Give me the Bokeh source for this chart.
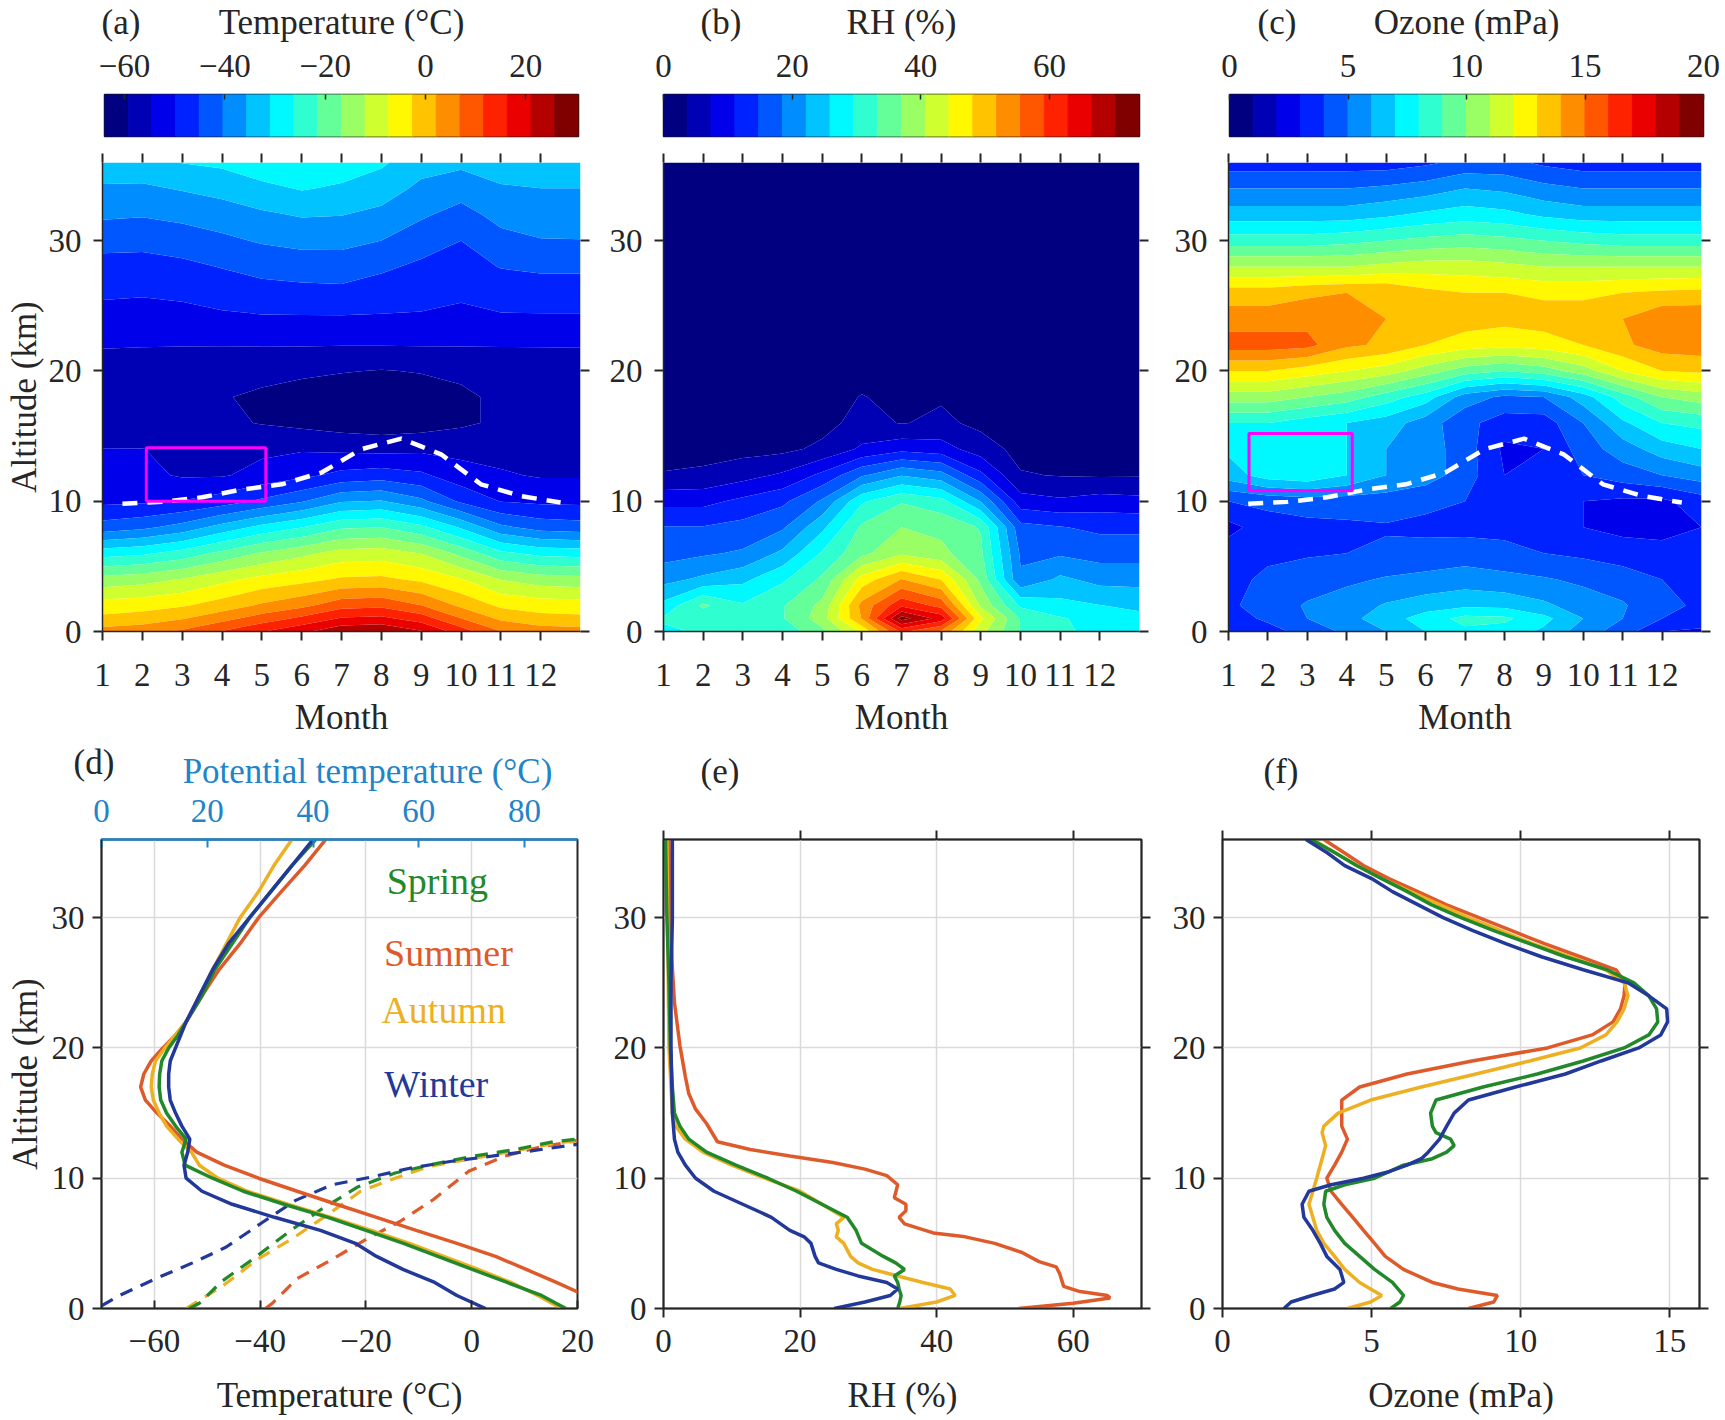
import numpy as np
from bokeh.plotting import figure
from bokeh.layouts import column, row
from bokeh.models import Range1d, LinearAxis, FixedTicker, Label, CustomJSTickFormatter
from bokeh.core.properties import value
from bokeh.embed import file_html
from bokeh.resources import INLINE

FONT = "Liberation Serif"
INK = "#262626"
TICK_FS = "33px"
LABEL_FS = "35px"

# ---------------------------------------------------------------- data
month_nodes = [1, 2, 3, 4, 5, 6, 7, 8, 9, 10, 11, 12, 13]
alt_nodes = [0, 1, 2, 4, 6, 8, 10, 12, 14, 16, 18, 20, 22, 24, 26, 28, 30, 32, 34, 36]

temp_field = [
    [4.0, 5.2, 7.7, 11.9, 16.1, 19.9, 24.7, 25.5, 21.5, 14.0, 7.0, 4.6, 4.0],
    [-1.5, -0.4, 1.8, 5.2, 9.1, 12.6, 16.8, 17.5, 14.0, 7.0, 1.2, -1.0, -1.5],
    [-5.0, -4.4, -3.1, -0.4, 2.9, 5.6, 9.8, 10.5, 7.0, 1.2, -3.5, -4.7, -5.0],
    [-15.0, -13.9, -11.7, -8.6, -5.8, -4.1, -1.9, -1.5, -3.5, -7.0, -12.2, -14.4, -15.0],
    [-28.2, -27.0, -24.3, -20.2, -16.3, -13.3, -10.1, -9.6, -12.2, -18.2, -25.0, -27.6, -28.2],
    [-43.0, -41.5, -38.5, -33.8, -29.5, -26.3, -22.2, -21.5, -25.0, -31.5, -39.3, -42.3, -43.0],
    [-51.0, -50.6, -49.7, -47.5, -44.2, -40.8, -36.1, -35.3, -39.3, -46.0, -50.0, -50.8, -51.0],
    [-53.3, -53.5, -55.0, -55.0, -53.0, -51.0, -48.5, -47.5, -49.0, -52.5, -54.0, -55.0, -55.0],
    [-54.5, -54.5, -55.3, -55.8, -55.5, -55.0, -55.5, -56.0, -55.5, -56.0, -56.3, -55.5, -55.2],
    [-56.0, -56.5, -57.5, -58.5, -59.5, -60.5, -61.5, -62.0, -61.5, -60.0, -58.5, -57.0, -56.5],
    [-57.0, -57.5, -58.0, -59.0, -60.0, -61.0, -62.0, -62.5, -61.5, -60.0, -58.5, -57.5, -57.0],
    [-56.5, -57.0, -57.0, -57.5, -58.0, -58.5, -59.0, -59.5, -59.0, -58.5, -57.5, -57.0, -56.5],
    [-54.2, -54.3, -54.4, -54.4, -54.3, -54.3, -54.4, -54.4, -54.3, -54.3, -54.3, -54.3, -54.3],
    [-51.7, -51.9, -51.6, -50.8, -50.4, -50.4, -50.4, -50.4, -50.5, -51.3, -50.5, -50.5, -50.5],
    [-49.1, -49.4, -48.9, -47.8, -47.0, -46.6, -46.3, -47.4, -48.1, -48.9, -47.7, -47.4, -47.4],
    [-46.7, -46.8, -46.2, -44.9, -43.5, -42.8, -42.7, -44.3, -46.0, -47.0, -44.9, -44.3, -44.3],
    [-43.6, -43.8, -42.8, -41.4, -39.9, -39.1, -39.1, -40.4, -43.0, -45.1, -41.8, -40.6, -40.5],
    [-39.6, -40.0, -39.1, -37.9, -36.4, -35.2, -35.5, -36.8, -39.7, -42.0, -38.9, -38.1, -38.0],
    [-36.2, -36.4, -35.3, -34.1, -32.1, -30.6, -31.6, -33.4, -36.7, -38.4, -36.2, -35.7, -35.7],
    [-33.0, -32.8, -30.8, -30.0, -28.0, -27.7, -28.5, -30.2, -33.8, -34.6, -33.1, -32.3, -32.5],
]

rh_field = [
    [29, 30, 30, 31, 36, 45, 60, 55, 42, 33, 30, 29, 28],
    [30, 31, 31, 33, 39, 52, 72, 65, 45, 33, 30, 28, 27],
    [27, 34, 30, 33, 38, 53, 62, 58, 40, 29, 27, 26, 25],
    [21, 23, 25, 29, 34, 46, 52, 48, 36, 19, 23, 21, 21],
    [17, 18, 19, 23, 30, 36, 40, 38, 34, 18, 18, 17, 17],
    [15, 15, 16, 18, 25, 34, 37, 36, 33, 16, 15, 14, 14],
    [10, 10, 12, 14, 19, 29, 33, 31, 22, 9, 8, 9, 8.5],
    [4, 4.5, 6, 8, 12, 18, 22, 20, 12, 4, 3.5, 3.3, 3.4],
    [2, 2.2, 2.5, 2.8, 4.5, 8, 10, 9, 5.5, 2.5, 2, 2, 2],
    [1.5, 1.5, 1.8, 2, 2.5, 5, 3.5, 4.5, 2.8, 1.8, 1.5, 1.5, 1.5],
    [1.2, 1.2, 1.3, 1.5, 1.8, 3.9, 2.5, 3.3, 2, 1.3, 1.2, 1.2, 1.2],
    [1.0, 1.0, 1.0, 1.2, 1.3, 2.0, 1.8, 2.0, 1.5, 1.1, 1.0, 1.0, 1.0],
    [0.9, 0.9, 0.9, 1.0, 1.1, 1.3, 1.3, 1.3, 1.1, 0.9, 0.9, 0.9, 0.9],
    [0.9, 0.9, 0.9, 0.9, 1.0, 1.1, 1.1, 1.1, 1.0, 0.9, 0.9, 0.9, 0.9],
    [0.8, 0.8, 0.8, 0.8, 0.9, 1.0, 1.0, 1.0, 0.9, 0.8, 0.8, 0.8, 0.8],
    [0.8, 0.8, 0.8, 0.8, 0.8, 0.9, 0.9, 0.9, 0.8, 0.8, 0.8, 0.8, 0.8],
    [0.7, 0.7, 0.7, 0.7, 0.7, 0.8, 0.8, 0.8, 0.7, 0.7, 0.7, 0.7, 0.7],
    [0.7, 0.7, 0.7, 0.7, 0.7, 0.7, 0.7, 0.7, 0.7, 0.7, 0.7, 0.7, 0.7],
    [0.6, 0.6, 0.6, 0.6, 0.6, 0.6, 0.6, 0.6, 0.6, 0.6, 0.6, 0.6, 0.6],
    [0.6, 0.6, 0.6, 0.6, 0.6, 0.6, 0.6, 0.6, 0.6, 0.6, 0.6, 0.6, 0.6],
]

ozone_field = [
    [3.2, 3.6, 4.4, 5.2, 6.0, 7.0, 7.8, 7.6, 6.8, 5.5, 4.5, 3.0, 2.8],
    [3.5, 4.2, 5.0, 5.7, 6.5, 7.5, 8.3, 8.2, 7.3, 6.0, 5.0, 4.0, 3.6],
    [3.8, 4.5, 5.1, 5.5, 6.1, 6.5, 6.8, 6.7, 6.2, 5.5, 5.1, 4.3, 3.8],
    [3.7, 4.2, 4.5, 4.8, 5.1, 5.3, 5.5, 5.3, 5.1, 4.8, 4.5, 4.0, 3.5],
    [3.5, 3.8, 3.9, 4.0, 4.2, 4.3, 4.5, 4.3, 4.0, 3.8, 3.5, 3.2, 3.2],
    [2.7, 3.5, 3.7, 3.8, 3.9, 3.8, 3.7, 3.7, 3.6, 3.0, 2.7, 2.8, 3.0],
    [4.0, 4.3, 4.5, 4.5, 4.5, 4.2, 4.0, 3.8, 3.8, 3.0, 2.8, 2.8, 3.5],
    [6.5, 7.5, 7.8, 7.0, 6.0, 5.5, 4.5, 3.0, 3.2, 4.0, 4.5, 5.0, 5.5],
    [7.2, 7.5, 7.5, 7.0, 6.0, 5.5, 4.5, 2.8, 3.0, 4.5, 5.5, 6.5, 7.0],
    [8.0, 8.0, 7.5, 7.0, 6.5, 5.5, 4.3, 3.5, 3.5, 5.0, 6.8, 8.0, 8.3],
    [10.5, 10.5, 10.0, 9.5, 8.5, 7.5, 5.5, 4.8, 5.0, 6.5, 8.5, 10.0, 10.5],
    [13.0, 13.0, 12.5, 12.0, 11.5, 10.5, 9.5, 9.0, 9.5, 10.5, 12.0, 13.0, 13.2],
    [15.5, 15.5, 15.3, 14.2, 13.8, 13.0, 12.5, 12.3, 12.5, 13.0, 13.8, 14.5, 14.6],
    [14.5, 14.5, 14.7, 14.5, 14.0, 13.5, 13.5, 13.3, 13.5, 13.5, 14.0, 14.8, 14.8],
    [13.5, 13.5, 13.8, 14.0, 14.0, 13.3, 13.0, 13.0, 12.8, 12.8, 13.0, 13.2, 13.3],
    [11.0, 11.0, 11.0, 11.0, 11.3, 11.5, 11.5, 11.3, 11.0, 11.0, 11.0, 11.0, 11.0],
    [8.5, 8.5, 8.5, 8.7, 9.0, 9.3, 9.5, 9.3, 9.0, 8.7, 8.5, 8.5, 8.5],
    [6.5, 6.5, 6.5, 6.5, 6.8, 7.2, 7.5, 7.3, 6.8, 6.5, 6.5, 6.5, 6.5],
    [5.0, 5.0, 5.0, 5.0, 5.2, 5.5, 6.0, 5.8, 5.3, 5.0, 5.0, 5.0, 5.0],
    [3.5, 3.5, 3.5, 3.5, 3.5, 3.8, 4.3, 4.3, 3.8, 3.5, 3.5, 3.5, 3.5],
]

tropopause_month = [1.5, 2.5, 3.5, 4.5, 5.5, 6.5, 7.5, 8.5, 9.5, 10.5, 11.5, 12.5]
tropopause_alt = [9.8, 9.95, 10.3, 10.9, 11.3, 12.2, 14.0, 14.8, 13.6, 11.3, 10.4, 9.9]

box_a_month = [2.1, 5.1]
box_a_alt = [10.0, 14.1]
box_c_month = [1.52, 4.14]
box_c_alt = [10.8, 15.2]

temp_scale = [-64.0, 30.5]
rh_scale = [0.0, 74.0]
ozone_scale = [0.0, 20.0]
temp_cb_ticks = [-60, -40, -20, 0, 20]
rh_cb_ticks = [0, 20, 40, 60]
ozone_cb_ticks = [0, 5, 10, 15, 20]
month_ticks = [1, 2, 3, 4, 5, 6, 7, 8, 9, 10, 11, 12]
alt_ticks = [0, 10, 20, 30]

# seasonal temperature profiles (deg C)
alt_T = [0, 1, 2, 3, 4, 5, 6, 7, 8, 9, 10, 11, 12, 13, 14, 15, 16, 17, 18, 19, 20, 21, 22,
         24, 26, 28, 30, 32, 34, 36]
spring_T = [17.8, 13.2, 6.7, 0.1, -6.4, -12.9, -20.0, -27.2, -35.5, -43.2, -49.0, -54.2, -54.8,
            -54.0, -56.0, -57.7, -58.8, -59.1, -59.0, -58.6, -57.3, -55.5, -54.0, -51.0, -48.6,
            -45.3, -42.0, -38.0, -34.0, -29.5]
summer_T = [24.5, 21.5, 16.0, 10.3, 4.5, -2.8, -10.5, -18.0, -25.6, -33.0, -40.3, -46.8, -52.0,
            -54.8, -57.0, -59.5, -61.7, -62.6, -62.0, -60.6, -58.4, -56.0, -54.0, -51.0, -47.8,
            -43.8, -40.3, -36.0, -31.6, -27.6]
autumn_T = [17.0, 12.5, 7.4, 1.2, -5.3, -11.8, -19.0, -26.6, -34.8, -42.4, -48.0, -51.5, -53.0,
            -55.5, -57.7, -59.1, -60.2, -60.6, -60.4, -59.8, -58.0, -56.0, -54.0, -51.5, -49.0,
            -46.4, -43.8, -40.3, -37.4, -34.0]
winter_T = [2.6, -2.8, -7.0, -13.0, -18.0, -22.0, -28.6, -37.3, -45.3, -51.0, -54.0, -54.4, -53.7,
            -53.3, -54.8, -56.0, -57.0, -57.3, -57.3, -57.0, -56.0, -55.0, -54.0, -51.5, -49.0,
            -46.0, -42.0, -38.0, -34.0, -30.0]

# seasonal potential temperature profiles (deg C, top axis)
spring_theta_alt = [0.0, 0.4, 2.1, 3.9, 6.0, 7.6, 9.3, 10.4, 11.1, 11.7, 12.2, 12.8, 13.0]
spring_theta = [16.6, 18.5, 22.8, 29.0, 35.8, 41.5, 48.3, 55.5, 63.0, 70.3, 78.2, 85.4, 90.0]
summer_theta_alt = [0.0, 0.4, 2.3, 3.7, 5.35, 6.7, 8.35, 10.55, 11.7, 12.4, 12.8, 12.9]
summer_theta = [31.0, 32.3, 37.0, 43.3, 50.2, 56.5, 62.7, 69.5, 76.3, 82.9, 88.8, 90.0]
autumn_theta_alt = [0.0, 1.7, 3.8, 5.4, 7.1, 9.0, 10.0, 10.9, 11.5, 12.1, 12.7, 12.9]
autumn_theta = [16.0, 22.8, 29.6, 36.2, 42.4, 49.0, 55.5, 62.0, 70.0, 78.0, 86.0, 90.0]
winter_theta_alt = [0.2, 1.0, 2.3, 3.5, 4.7, 6.6, 8.3, 9.5, 10.1, 10.8, 11.3, 11.7, 12.1, 12.6]
winter_theta = [0.0, 3.4, 10.3, 17.2, 23.5, 30.4, 36.7, 43.6, 51.1, 58.7, 66.2, 73.8, 81.3, 90.0]

# seasonal RH profiles (%)
spring_rh_alt = [0, 0.5, 1.0, 1.5, 2.0, 2.5, 3.0, 3.5, 4.0, 5.0, 6.0, 7.0, 8.0, 9.0, 10.0, 11.0,
                 12.0, 13.0, 14.0, 15.0, 17.0, 20.0, 25.0, 30.0, 36.0]
spring_rh = [34.3, 34.6, 34.8, 34.5, 34.3, 33.8, 35.3, 34.0, 32.2, 29.0, 28.2, 26.9, 23.2, 19.5,
             15.3, 10.6, 6.3, 3.7, 2.4, 1.6, 1.3, 1.0, 0.8, 0.5, 0.3]
summer_rh_alt = [0, 0.4, 0.8, 1.0, 1.3, 1.7, 2.7, 3.2, 3.6, 4.3, 5.0, 5.5, 5.8, 6.5, 7.0, 7.5, 8.0,
                 8.5, 9.5, 10.2, 10.7, 11.2, 11.7, 12.2, 12.8, 14.2, 15.3, 16.5, 17.8, 20.2, 23.5,
                 27.0, 30.0, 33.0, 36.0]
summer_rh = [52, 60, 65.4, 65, 61, 58.6, 58, 57.5, 55, 52.5, 48.5, 44.2, 39.5, 35.3, 34.5, 35.5,
             35.5, 33.8, 34.3, 32.7, 29.5, 24.8, 18.5, 12.7, 7.9, 6.3, 4.7, 3.7, 3.2, 2.4, 1.6,
             1.2, 1.0, 0.9, 0.8]
autumn_rh_alt = [0, 0.5, 1.0, 1.5, 2.0, 2.5, 3.0, 3.5, 4.0, 4.5, 5.0, 5.5, 6.0, 6.5, 7.0, 8.0, 9.0,
                 10.0, 11.0, 12.0, 13.0, 14.0, 15.0, 20.0, 30.0, 36.0]
autumn_rh = [34.6, 40.0, 42.7, 42.0, 38.0, 34.3, 30.6, 28.5, 27.4, 26.9, 26.4, 25.3, 25.6, 25.3,
             26.4, 23.2, 20.0, 14.8, 10.0, 5.8, 3.2, 1.8, 1.3, 0.8, 0.6, 0.5]
winter_rh_alt = [0, 0.5, 1.0, 1.5, 2.0, 2.5, 3.0, 3.5, 4.0, 5.0, 5.5, 6.0, 7.0, 8.0, 9.0, 10.0,
                 11.0, 12.0, 13.0, 15.0, 20.0, 25.0, 30.0, 36.0]
winter_rh = [25.0, 29.5, 33.2, 34.3, 32.7, 28.5, 25.3, 22.7, 22.2, 21.6, 20.6, 18.5, 15.8, 11.6,
             7.4, 4.7, 3.2, 2.1, 1.6, 1.3, 1.1, 1.1, 1.3, 1.3]

# seasonal ozone profiles (mPa)
spring_o3_alt = [0, 0.5, 1, 2, 3, 4, 5, 6, 7, 8, 9, 9.5, 10, 11, 11.5, 12, 12.5, 13, 13.5, 14, 15,
                 16, 17, 18, 19, 20, 21, 22, 23, 24, 25, 26, 27, 28, 29, 30, 31, 32, 33, 34, 35, 36]
spring_o3 = [5.64, 5.95, 6.07, 5.7, 5.1, 4.6, 4.1, 3.76, 3.5, 3.4, 3.46, 4.1, 5.1, 6.07, 7.04,
             7.52, 7.77, 7.65, 7.16, 7.04, 6.98, 7.16, 8.74, 10.56, 12.1, 13.47, 14.3, 14.6, 14.56,
             14.3, 13.8, 12.9, 11.5, 10.3, 9.1, 8.0, 7.0, 6.2, 5.34, 4.5, 3.76, 2.97]
summer_o3_alt = [0, 0.5, 1, 1.5, 2, 3, 4, 5, 6, 7, 8, 9, 10, 11, 12, 13, 14, 15, 16, 17, 18, 19,
                 20, 21, 22, 23, 24, 25, 26, 27, 28, 29, 30, 31, 32, 33, 34, 35, 36]
summer_o3 = [8.25, 9.1, 9.22, 7.9, 7.04, 6.07, 5.46, 5.1, 4.73, 4.37, 4.0, 3.64, 3.5, 3.76, 4.0,
             4.19, 4.0, 4.0, 4.0, 4.6, 6.19, 8.37, 10.9, 12.4, 13.1, 13.35, 13.47, 13.5, 13.2,
             12.0, 10.8, 9.7, 8.6, 7.5, 6.55, 5.58, 4.73, 4.07, 3.4]
autumn_o3_alt = [0, 0.5, 1, 1.5, 2, 3, 4, 5, 6, 7, 8, 9, 10, 11, 12, 12.5, 13, 13.5, 14, 15, 16,
                 17, 18, 19, 20, 21, 22, 23, 24, 25, 26, 27, 28, 29, 30, 31, 32, 33, 34, 35, 36]
autumn_o3 = [4.19, 4.97, 5.34, 4.97, 4.6, 4.1, 3.76, 3.4, 3.16, 3.03, 2.9, 3.03, 3.16, 3.28, 3.4,
             3.46, 3.4, 3.34, 3.4, 3.88, 4.97, 6.67, 8.5, 10.3, 12.0, 12.86, 13.23, 13.47, 13.6,
             13.47, 12.86, 11.65, 10.4, 9.34, 8.25, 7.28, 6.3, 5.34, 4.5, 3.76, 3.03]
winter_o3_alt = [0, 0.5, 1, 1.5, 2, 3, 4, 5, 6, 7, 8, 9, 9.5, 10, 10.5, 11, 11.5, 12, 13, 14, 15,
                 16, 17, 18, 19, 20, 21, 22, 23, 24, 25, 26, 27, 28, 29, 30, 31, 32, 33, 34, 35, 36]
winter_o3 = [2.06, 2.3, 3.0, 3.76, 4.07, 3.94, 3.5, 3.28, 3.03, 2.73, 2.67, 2.9, 3.64, 4.73, 5.58,
             6.19, 6.67, 6.9, 7.28, 7.52, 7.77, 8.25, 9.83, 11.5, 12.7, 13.96, 14.7, 14.93, 14.9,
             14.3, 13.6, 12.1, 10.7, 9.5, 8.4, 7.4, 6.55, 5.7, 5.0, 4.1, 3.5, 2.8]

season_names = ["Spring", "Summer", "Autumn", "Winter"]
season_colors = {"Spring": "#22892A", "Summer": "#DE5A2A", "Autumn": "#EDB023", "Winter": "#22399A"}
THETA_BLUE = "#1F84C9"

# ---------------------------------------------------------------- helpers
NBANDS = 20


def jet(n):
    out = []
    for i in range(n):
        t = i / (n - 1)
        r = min(max(1.5 - abs(4 * t - 3), 0.0), 1.0)
        g = min(max(1.5 - abs(4 * t - 2), 0.0), 1.0)
        b = min(max(1.5 - abs(4 * t - 1), 0.0), 1.0)
        out.append("#%02x%02x%02x" % (round(r * 255), round(g * 255), round(b * 255)))
    return out


JET = jet(NBANDS)
BLANK = CustomJSTickFormatter(code="return ''")


def style_axis(ax, tick_in=0, tick_out=9, color=INK, label_color=INK, standoff=10):
    ax.major_tick_in = tick_in
    ax.major_tick_out = tick_out
    ax.minor_tick_line_color = None
    ax.major_tick_line_color = color
    ax.major_tick_line_width = 2
    ax.axis_line_color = color
    ax.axis_line_width = 1.5
    ax.major_label_text_font = FONT
    ax.major_label_text_font_size = TICK_FS
    ax.major_label_text_color = label_color
    ax.major_label_standoff = standoff
    ax.axis_label_text_font = FONT
    ax.axis_label_text_font_size = LABEL_FS
    ax.axis_label_text_font_style = "normal"
    ax.axis_label_text_color = label_color


def mirror_axis(ticks, tick_out=9, line=True, **kw):
    ax = LinearAxis(ticker=FixedTicker(ticks=ticks), formatter=BLANK, **kw)
    style_axis(ax, tick_out=tick_out, standoff=0)
    ax.major_label_text_font_size = "1px"
    if not line:
        ax.axis_line_color = None
    return ax


def strip_fig(height, left_items, center_items):
    """A text-only strip spanning the page width (x and y in pixels of the strip)."""
    p = figure(frame_width=1725, frame_height=height, x_range=Range1d(0, 1725),
               y_range=Range1d(0, height), x_axis_location=None, y_axis_location=None,
               min_border=0, output_backend="svg", toolbar_location=None)
    p.grid.visible = False
    p.outline_line_color = None
    for items, align in ((left_items, "left"), (center_items, "center")):
        if items:
            p.text(x=[it[0] for it in items], y=[it[1] for it in items],
                   text=[it[2] for it in items], text_color=[it[3] for it in items],
                   text_align=align, text_baseline="middle", text_font=value(FONT),
                   text_font_size=LABEL_FS)
    return p


def colorbar_fig(scale, ticks, left, fw, right):
    p = figure(frame_width=fw, frame_height=42, x_range=Range1d(scale[0], scale[1]),
               y_range=Range1d(0, 1), x_axis_location="above", y_axis_location=None,
               min_border_left=left, min_border_right=right, min_border_top=49,
               min_border_bottom=14, output_backend="svg", toolbar_location=None)
    p.grid.visible = False
    edges = np.linspace(scale[0], scale[1], NBANDS + 1)
    p.quad(left=edges[:-1], right=edges[1:], bottom=0, top=1, fill_color=JET, line_color=JET,
           line_width=1)
    ax = p.xaxis[0]
    ax.ticker = FixedTicker(ticks=ticks)
    style_axis(ax, tick_in=5, tick_out=0, standoff=18)
    ax.axis_line_color = None
    ax.major_tick_line_width = 1.5
    p.outline_line_color = "#1a1a1a"
    p.outline_line_width = 1.5
    return p


def contour_fig(field, scale, left, fw, right, ylabel=None, box=None, trop=True):
    p = figure(frame_width=fw, frame_height=469, x_range=Range1d(1, 13), y_range=Range1d(0, 36),
               min_border_left=left, min_border_right=right, min_border_top=12,
               min_border_bottom=110, output_backend="svg", toolbar_location=None)
    p.grid.visible = False
    p.outline_line_color = None
    edges = np.linspace(scale[0], scale[1], NBANDS + 1)
    levels = [-1.0e4] + [float(v) for v in edges[1:-1]] + [1.0e4]
    p.contour(x=month_nodes, y=alt_nodes, z=np.array(field, dtype=float), levels=levels,
              fill_color=JET)
    if trop:
        p.line(tropopause_month, tropopause_alt, line_color="white", line_width=4.5,
               line_dash="15 10")
    if box is not None:
        bx, by = box
        p.quad(left=[bx[0]], right=[bx[1]], bottom=[by[0]], top=[by[1]], fill_color=None,
               line_color="#FF00FF", line_width=3)
    xa = p.xaxis[0]
    xa.ticker = FixedTicker(ticks=month_ticks)
    xa.axis_label = "Month"
    style_axis(xa, standoff=23)
    xa.axis_label_standoff = 9
    ya = p.yaxis[0]
    ya.ticker = FixedTicker(ticks=alt_ticks)
    style_axis(ya, standoff=12)
    if ylabel:
        ya.axis_label = ylabel
        ya.axis_label_standoff = 2
    p.add_layout(mirror_axis(month_ticks, line=False), "above")
    p.add_layout(mirror_axis(alt_ticks, line=False), "right")
    return p


def profile_fig(xr, left, fw, right, xticks, xlabel, ylabel=None, mirror=True, bottom_in=False):
    p = figure(frame_width=fw, frame_height=469, x_range=Range1d(xr[0], xr[1]),
               y_range=Range1d(0, 36), min_border_left=left, min_border_right=right,
               min_border_top=46, min_border_bottom=112, output_backend="svg",
               toolbar_location=None)
    p.outline_line_color = INK
    p.outline_line_width = 2
    p.xgrid.ticker = FixedTicker(ticks=xticks)
    p.ygrid.ticker = FixedTicker(ticks=alt_ticks)
    p.grid.grid_line_color = "#DADADA"
    p.grid.grid_line_width = 1.5
    xa = p.xaxis[0]
    xa.ticker = FixedTicker(ticks=xticks)
    xa.axis_label = xlabel
    if bottom_in:
        style_axis(xa, tick_in=8, tick_out=0, standoff=21)
    else:
        style_axis(xa, tick_out=9, standoff=12)
    xa.axis_label_standoff = 21
    ya = p.yaxis[0]
    ya.ticker = FixedTicker(ticks=alt_ticks)
    style_axis(ya, standoff=8)
    if ylabel:
        ya.axis_label = ylabel
        ya.axis_label_standoff = 4
    if mirror:
        p.add_layout(mirror_axis(xticks), "above")
        p.add_layout(mirror_axis(alt_ticks), "right")
    return p


# ---------------------------------------------------------------- top strip (panel titles)
top_strip = strip_fig(
    45,
    [(101, 23, "(a)", INK), (700, 23, "(b)", INK), (1257, 23, "(c)", INK)],
    [(341, 23, "Temperature (°C)", INK), (901, 23, "RH (%)", INK), (1466, 23, "Ozone (mPa)", INK)],
)

# ---------------------------------------------------------------- colour bars
cb_a = colorbar_fig(temp_scale, temp_cb_ticks, 104, 474, 22)
cb_b = colorbar_fig(rh_scale, rh_cb_ticks, 63, 476, 26)
cb_c = colorbar_fig(ozone_scale, ozone_cb_ticks, 64, 474, 22)

# ---------------------------------------------------------------- contour panels
pa = contour_fig(temp_field, temp_scale, 102, 478, 20, ylabel="Altitude (km)",
                 box=(box_a_month, box_a_alt))
pb = contour_fig(rh_field, rh_scale, 63, 476, 26, trop=False)
pc = contour_fig(ozone_field, ozone_scale, 63, 473, 24, box=(box_c_month, box_c_alt))

# ---------------------------------------------------------------- middle strip
mid_strip = strip_fig(
    52,
    [(73, 31, "(d)", INK), (700, 22, "(e)", INK), (1263, 22, "(f)", INK)],
    [(367, 22, "Potential temperature (°C)", THETA_BLUE)],
)

# ---------------------------------------------------------------- profile panels
pd = profile_fig((-70, 20), 101, 476, 23, [-60, -40, -20, 0, 20], "Temperature (°C)",
                 ylabel="Altitude (km)", mirror=False, bottom_in=True)
pd.xgrid.ticker = FixedTicker(ticks=[-60, -40, -20, 0])
pd.extra_x_ranges = {"theta": Range1d(0, 90)}
theta_ax = LinearAxis(x_range_name="theta", ticker=FixedTicker(ticks=[0, 20, 40, 60, 80]))
style_axis(theta_ax, tick_in=8, tick_out=0, color=THETA_BLUE, label_color=THETA_BLUE,
           standoff=18)
theta_ax.axis_line_width = 2.5
pd.add_layout(theta_ax, "above")

temp_profiles = {"Spring": spring_T, "Summer": summer_T, "Autumn": autumn_T, "Winter": winter_T}
theta_profiles = {"Spring": (spring_theta_alt, spring_theta),
                  "Summer": (summer_theta_alt, summer_theta),
                  "Autumn": (autumn_theta_alt, autumn_theta),
                  "Winter": (winter_theta_alt, winter_theta)}
draw_order = ["Summer", "Autumn", "Spring", "Winter"]
for s in draw_order:
    ta, tv = theta_profiles[s]
    pd.line(tv, ta, x_range_name="theta", line_color=season_colors[s], line_width=3.2,
            line_dash="13 9")
for s in draw_order:
    pd.line(temp_profiles[s], alt_T, line_color=season_colors[s], line_width=3.5)

legend_pos = {"Spring": (-6.5, 32.8), "Summer": (-4.4, 27.3), "Autumn": (-5.3, 22.9),
              "Winter": (-6.7, 17.2)}
for s in season_names:
    lx, ly = legend_pos[s]
    pd.add_layout(Label(x=lx, y=ly, text=s, text_align="center", text_baseline="middle",
                        text_font=FONT, text_font_size="38px", text_color=season_colors[s]))

pe = profile_fig((0, 70), 63, 478, 24, [0, 20, 40, 60], "RH (%)")
rh_profiles = {"Spring": (spring_rh_alt, spring_rh), "Summer": (summer_rh_alt, summer_rh),
               "Autumn": (autumn_rh_alt, autumn_rh), "Winter": (winter_rh_alt, winter_rh)}
for s in draw_order:
    ra, rv = rh_profiles[s]
    pe.line(rv, ra, line_color=season_colors[s], line_width=3.5)

pf = profile_fig((0, 16), 57, 477, 26, [0, 5, 10, 15], "Ozone (mPa)")
o3_profiles = {"Spring": (spring_o3_alt, spring_o3), "Summer": (summer_o3_alt, summer_o3),
               "Autumn": (autumn_o3_alt, autumn_o3), "Winter": (winter_o3_alt, winter_o3)}
for s in draw_order:
    oa, ov = o3_profiles[s]
    pf.line(ov, oa, line_color=season_colors[s], line_width=3.5)

layout = column(top_strip,
                row(cb_a, cb_b, cb_c, spacing=0),
                row(pa, pb, pc, spacing=0),
                mid_strip,
                row(pd, pe, pf, spacing=0),
                spacing=0)

open("out.html", "w").write(file_html(layout, INLINE, title="Seasonal profiles"))
